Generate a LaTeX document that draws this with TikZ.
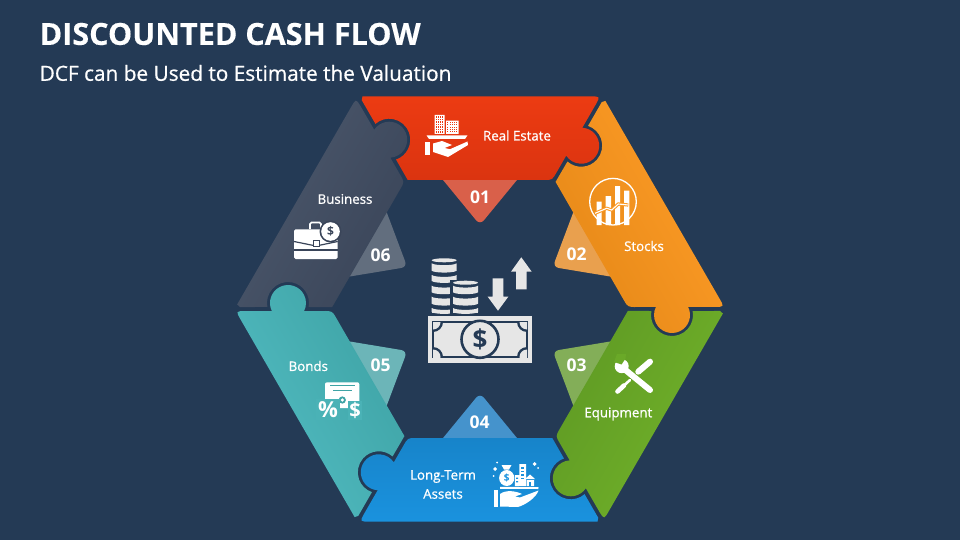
\documentclass[tikz,border=0pt]{standalone}
\usepackage{fontspec}
\setmainfont{Open Sans}
\newfontfamily\semib{Open Sans}[FakeBold=0.9]
\newfontfamily\subt{Open Sans}[FakeBold=0.7]
\newfontfamily\heavy{Open Sans Bold}[FakeBold=0.3]
\definecolor{bg}{HTML}{243A55}
\definecolor{redO}{HTML}{EC3B12}\definecolor{redI}{HTML}{DB3410}\definecolor{redT}{HTML}{D9604A}
\definecolor{orO}{HTML}{FF9D28}\definecolor{orI}{HTML}{E58817}\definecolor{orT}{HTML}{E9A04E}
\definecolor{grO}{HTML}{72B32A}\definecolor{grI}{HTML}{5F9A24}\definecolor{grT}{HTML}{83AE58}
\definecolor{blO}{HTML}{1A92DE}\definecolor{blI}{HTML}{1784CA}\definecolor{blT}{HTML}{4593CC}
\definecolor{teO}{HTML}{52BCC2}\definecolor{teI}{HTML}{3EA3A5}\definecolor{teT}{HTML}{6CB5B8}
\definecolor{gyO}{HTML}{4C586C}\definecolor{gyI}{HTML}{3A4559}\definecolor{gyT}{HTML}{626E7E}
\definecolor{ilight}{HTML}{E6E6E6}
\tikzset{
  hexframe/.style={x=1pt,y=1pt,shift={(480pt,-309pt)}},
  label/.style={text=white,font=\semib\fontsize{13.3}{16}\selectfont,inner sep=0pt,align=center},
  num/.style={text=white,font=\bfseries\fontsize{17.5}{20}\selectfont,inner sep=0pt},
}
\newcommand{\tabpath}{(-117.5,212.6) -- (110,212.6) .. controls (120.07,212.6) .. (116.27,205.4)
  -- (102.33,181.26) arc[start angle=86.4,end angle=-146.4,radius=18]
  -- (76.77,137) .. controls (72.27,129) .. (64,129)
  -- (-72.27,129) -- (-83.96,149.44) arc[start angle=-71,end angle=131,radius=21] -- (-118.27,208.84) -- cycle}
\newcommand{\piece}[3]{\begin{scope}[hexframe,rotate around={-#1:(0,0)}]
  \shade[top color=#2,bottom color=#3,shading angle=-#1] \tabpath;\end{scope}}
\newcommand{\tri}[2]{\begin{scope}[hexframe,rotate around={-#1:(0,0)}]
  \fill[#2,rounded corners=6pt] (-46,140) -- (46,140) -- (0,84) -- cycle;\end{scope}}
\newcommand{\coinband}[4]{\fill[ilight] (#1,#3) .. controls (#1+3,#3+2.5) and (#2-3,#3+2.5) .. (#2,#3) -- (#2,#4) .. controls (#2-3,#4+2.5) and (#1+3,#4+2.5) .. (#1,#4) -- cycle;}
\begin{document}
\begin{tikzpicture}[x=1pt,y=-1pt]
\useasboundingbox (0,0) rectangle (960,540);
\fill[bg] (0,0) rectangle (960,540);
\node[anchor=west,inner sep=0pt,text=white,font=\heavy\fontsize{30.5}{34}\selectfont] (title) at (39.5,34) {DISCOUNTED CASH FLOW};
\node[anchor=west,inner sep=0pt,text=white,font=\subt\fontsize{20.8}{24}\selectfont] (subtitle) at (39.5,73) {DCF can be Used to Estimate the Valuation};
% triangles
\tri{0}{redT}\tri{60}{orT}\tri{120}{grT}\tri{180}{blT}\tri{240}{teT}\tri{300}{gyT}
% pieces
\piece{0}{redO}{redI}\piece{60}{orO}{orI}\piece{120}{grO}{grI}
\piece{180}{blO}{blI}\piece{240}{teO}{teI}\piece{300}{gyO}{gyI}
% labels
\node[label] (l1) at (517,135.5) {Real Estate};
\node[label] (l2) at (644,246) {Stocks};
\node[label] (l3) at (618.3,414) {Equipment};
\node[label] (l4) at (443,484.5) {Long-Term\\[3pt]Assets};
\node[label] (l5) at (308.3,366) {Bonds};
\node[label] (l6) at (345,199) {Business};
\node[num] (n1) at (480,197) {01};
\node[num] (n2) at (576.7,254.5) {02};
\node[num] (n3) at (576.7,365.5) {03};
\node[num] (n4) at (479.5,422.5) {04};
\node[num] (n5) at (380.7,365.5) {05};
\node[num] (n6) at (380.7,255) {06};
% centre icon: coins
\fill[ilight] (444.2,260.3) ellipse[x radius=12.5,y radius=2];
\coinband{431.7}{456.7}{263.3}{270.7}
\coinband{431.7}{456.7}{275}{281}
\coinband{431.7}{456.7}{285.7}{292.3}
\coinband{431.7}{456.7}{296.7}{303.7}
\coinband{431.7}{456.7}{308}{312}
\fill[bg] (450,279.5) rectangle (480,315);
\fill[ilight] (465.5,282.7) ellipse[x radius=12.5,y radius=2];
\coinband{453}{478}{285.7}{292.3}
\coinband{453}{478}{296.7}{303.7}
\coinband{453}{478}{308}{312}
\fill[ilight] (431.7,311) rectangle (449.5,313); \fill[ilight] (453,311) rectangle (478,313);
% arrows
\fill[ilight] (521.3,257.3) -- (531.7,271.7) -- (526.7,271.7) -- (526.7,289.3) -- (516,289.3) -- (516,271.7) -- (511,271.7) -- cycle;
\fill[ilight] (498,310.7) -- (487.7,296.7) -- (492.7,296.7) -- (492.7,278.3) -- (503.3,278.3) -- (503.3,296.7) -- (508.3,296.7) -- cycle;
% bill
\fill[ilight] (428.3,316) rectangle (531.7,362.7);
\draw[bg,line width=2.4pt] (433,322) rectangle (527,357);
\begin{scope}
\clip (433,322) rectangle (527,357);
\foreach \cx/\cy in {433/322,527/322,433/357,527/357}{
  \fill[bg] (\cx,\cy) circle[radius=10];
  \fill[ilight] (\cx,\cy) circle[radius=7.5];}
\end{scope}
\draw[bg,line width=2.6pt,fill=ilight] (480,339.3) circle[radius=18.5];
\node[inner sep=0pt,text=bg,font=\bfseries\fontsize{26}{28}\selectfont] (dollar) at (480,339.3) {\$};
% Real Estate icon
\fill[white] (434.7,115) rectangle (444.7,134) (446,120.7) rectangle (458.7,134);
\foreach \i in {0,...,3}{\foreach \j in {0,...,6}{
  \fill[redO] (436,116.5+\j*2.5) ++(\i*2.1,0) rectangle +(1,1.2);}}
\foreach \i in {0,...,4}{\foreach \j in {0,...,4}{
  \fill[redO] (447.4,122+\j*2.3) ++(\i*2.2,0) rectangle +(1,1.1);}}
\fill[white] (426.5,135.3) -- (467.5,135.3) -- (465,139) -- (429,139) -- cycle;
\fill[white] (424.7,141.7) rectangle (430.3,155);
\fill[white] (433,143.5) -- (442,141) -- (452,145) -- (444.5,148) -- (450,149.2) -- (467.5,141.5) -- (468,145) -- (448,157) -- (433,152) -- cycle;
% Stocks icon
\draw[white,line width=1.3pt] (613,201.7) circle[radius=23.3];
\fill[white] (596.7,201.7) rectangle (601.7,225) (605.7,196) rectangle (611,225) (615,186) rectangle (620,225) (624,190.7) rectangle (629.3,225);
\draw[orO!85!orI,line width=3.2pt] (595,213.3) -- (606.7,208.3) -- (611.7,210) -- (618.3,204) -- (628.3,205);
\draw[white,line width=1.1pt] (595,213.3) -- (606.7,208.3) -- (611.7,210) -- (618.3,204) -- (628.3,205);
% Equipment icon
\draw[white,line width=6pt,line cap=round] (638.3,371.7) -- (650,361.7);
\draw[white,line width=2.6pt,line cap=round] (630,380) -- (624,385.5);
\draw[white,line width=4.6pt,line cap=round] (624,385.5) -- (617.5,391.5);
\draw[white,line width=6pt,line cap=round] (623,368) -- (650,390);
\fill[white] (621.7,366.2) circle[radius=7];
\fill[grO!60!grI] (621.5,364.5) -- (614,362) -- (617,354) -- (626,354) -- (625.5,358.5) -- cycle;
% Long-term assets icon
\fill[white] (494,490.3) rectangle (498.3,507.3);
\fill[white] (500,486.8) -- (538.5,487.2) -- (538.3,489) -- (500,488.8) -- cycle;
\fill[white] (500,494) .. controls (506,489.5) and (516,491) .. (522,494) -- (515,496.5) -- (520,497.5) -- (538.5,490.5) .. controls (536,498) and (525,505) .. (518,507) -- (500,506.5) -- cycle;
\fill[white] (501.5,465) -- (511.5,465) -- (509,469.5) -- (504,469.5) -- cycle;
\fill[white] (506.7,478) ellipse[x radius=7.6,y radius=8];
\node[inner sep=0pt,text=blO,font=\bfseries\fontsize{10}{11}\selectfont] (bagdollar) at (506.7,478) {\$};
\fill[white] (519.3,464) rectangle (526,486) (514.8,475) rectangle (519.3,486);
\foreach \j in {0,1,2,3}{\fill[blO] (521,467+\j*3.5) rectangle +(3.2,1.6);}
\fill[blO] (516,477.5) rectangle +(2,1.4) (516,481) rectangle +(2,1.4);
\fill[white] (525,479) -- (530,474.5) -- (535,479) -- cycle (526.5,480) rectangle (534,486);
\fill[blO] (529,481.5) rectangle +(2.4,4.5);
\foreach \sx/\sy/\sr in {495/469/2,534.5/464/2,538/468/1,493.5/476/1,497/462.5/1}{
  \fill[white] (\sx-\sr,\sy) -- (\sx,\sy-\sr) -- (\sx+\sr,\sy) -- (\sx,\sy+\sr) -- cycle;}
% Bonds icon
\fill[white,rounded corners=2pt] (325,382.3) rectangle (359.3,408);
\draw[teI,line width=1.2pt] (330,385.5) -- (355,385.5) (333,390.5) -- (352,390.5);
\fill[teI] (342.3,400) circle[radius=3.6];\fill[white] (342.3,400) circle[radius=1.8];
\fill[teO!60!teI] (316,399) rectangle (339.5,420);
\fill[teO!60!teI] (347.8,400.5) rectangle (362,420);
\node[inner sep=0pt,text=white,font=\bfseries\fontsize{22}{24}\selectfont] (pct) at (328,410) {\%};
\node[inner sep=0pt,text=white,font=\bfseries\fontsize{20}{22}\selectfont] (bondusd) at (355,410) {\$};
% Business icon
\draw[white,line width=1.6pt,rounded corners=1.5pt] (310,229) -- (310,222.5) -- (321,222.5) -- (321,229);
\fill[white,rounded corners=1.5pt] (294,229.3) rectangle (337.7,259);
\draw[gyI,line width=1.2pt] (294,241.5) -- (316,246) -- (337.7,241.5);
\draw[gyI,line width=1.4pt] (294,250) -- (337.7,250);
\fill[white] (313.5,240) rectangle (319.5,246);
\draw[gyI,line width=0.8pt] (313.5,240) rectangle (319.5,246);
\fill[gyI] (330.5,231.5) circle[radius=11];
\fill[white] (330.5,231.5) circle[radius=9.3];
\node[inner sep=0pt,text=gyI,font=\bfseries\fontsize{12}{13}\selectfont] (bizusd) at (330.5,231.5) {\$};
\end{tikzpicture}
\end{document}
